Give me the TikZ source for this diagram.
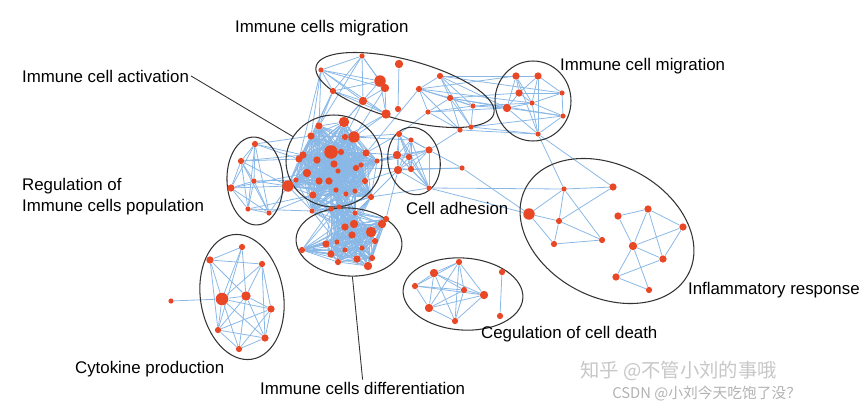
\documentclass[tikz,border=0pt]{standalone}
\usepackage{fontspec}
\setmainfont{Liberation Sans}
\newfontfamily\cjk{Noto Sans CJK SC}
\usepackage{tikz}
\usetikzlibrary{shapes.geometric, backgrounds}
\usepackage{xcolor}
\definecolor{dotRed}{RGB}{232, 72, 38}
\definecolor{linkBlue}{RGB}{138, 184, 230}

\begin{document}
\begin{tikzpicture}[
  x=0.02cm, y=-0.02cm,
  dot/.style={circle, fill=dotRed, inner sep=0pt},
  link/.style={linkBlue, line width=0.45pt},
  ring/.style={ellipse, draw=black!80, line width=0.6pt, inner sep=0pt},
  lbl/.style={font=\fontsize{9.6}{11.9}\selectfont, inner sep=1pt, anchor=west, align=left},
  lead/.style={black!80, line width=0.5pt}
]
  \useasboundingbox (0,0) rectangle (865,409);
  % Cluster outlines
  \node[ring, minimum width=1.92cm, minimum height=1.84cm] (act) at (334,161) {};
  \node[ring, minimum width=3.68cm, minimum height=1.2cm, rotate=-15] (migs) at (405,90) {};
  \node[ring, minimum width=1.52cm, minimum height=1.6cm] (mig) at (533,101) {};
  \node[ring, minimum width=1.12cm, minimum height=1.76cm, rotate=3] (reg) at (255,181) {};
  \node[ring, minimum width=1.04cm, minimum height=1.36cm, rotate=10] (adh) at (414,161) {};
  \node[ring, minimum width=2.12cm, minimum height=1.36cm, rotate=-4] (diff) at (349,242) {};
  \node[ring, minimum width=3.68cm, minimum height=2.64cm, rotate=-28] (infl) at (607,231) {};
  \node[ring, minimum width=1.66cm, minimum height=2.52cm, rotate=9] (cyto) at (242,297) {};
  \node[ring, minimum width=2.4cm, minimum height=1.44cm, rotate=-4] (death) at (463,294) {};
  % Labels
  \node[lbl] (lblmigs) at (233,28) {Immune cells migration};
  \node[lbl] (lblact) at (20,76) {Immune cell activation};
  \node[lbl] (lblmig) at (558,66) {Immune cell migration};
  \node[lbl] (lblreg) at (20,197) {Regulation of\\Immune cells population};
  \node[lbl] (lbladh) at (404,208) {Cell adhesion};
  \node[lbl] (lblinfl) at (686,290) {Inflammatory response};
  \node[lbl] (lbldeath) at (479,334) {Cegulation of cell death};
  \node[lbl] (lblcyto) at (73,369) {Cytokine production};
  \node[lbl] (lbldiff) at (258,388) {Immune cells differentiation};
  \draw[lead] (lblact.east) -- (act);
  \draw[lead] (lbldiff.north) -- (diff);
  % Genes
  \foreach \n/\x/\y/\s in {
    a1/319/126/6, a2/344/122/9, a3/354/137/10, a4/311/136/6, a5/345/137/5,
    a6/331/152/12, a7/341/152/5, a8/366/153/6, a9/303/155/6, a10/299/159/6,
    a11/317/160/6, a12/334/164/6, a13/356/168/5, a14/361/165/4, a15/377/161/4,
    a16/307/173/7, a17/338/171/4, a18/296/180/4, a19/319/181/6, a20/329/181/6,
    a21/365/181/5, a22/336/190/4, a23/355/191/4, a24/346/194/4, a25/313/195/6,
    a26/288/186/10, a27/371/197/5, a28/312/211/4,
    m1/362/56/4, m2/321/70/4, m3/399/64/7, m4/380/81/10, m5/385/88/7,
    m6/333/91/5, m7/363/101/7, m8/398/109/5, m9/386/114/8, m10/419/89/5,
    m11/440/76/5, m12/450/98/5, m13/428/112/4, m14/473/106/4, m15/460/130/4,
    m16/471/127/4,
    g1/516/76/6, g2/538/76/6, g3/519/93/6, g4/562/93/4, g5/532/103/4,
    g6/507/108/7, g7/563/116/4, g8/538/134/4,
    c1/399/134/5, c2/411/140/4, c3/429/150/6, c4/397/155/7, c5/409/157/5,
    c6/398/170/7, c7/411/169/5, c8/429/188/4, c9/462/168/4,
    r1/255/144/5, r2/241/161/5, r3/254/181/4, r4/231/188/6, r5/248/209/4,
    r6/269/213/4,
    d1/345/227/6, d2/354/224/7, d3/382/224/7, d4/386/219/5, d5/371/232/9,
    d6/352/235/6, d7/326/244/6, d8/337/242/4, d9/375/241/5, d10/302/250/5,
    d11/331/254/6, d12/357/259/6, d13/372/258/5, d14/338/262/5, d15/368/266/7,
    d16/331/209/4, d17/339/207/4, d18/362/248/4, d19/345/250/4, d20/355/213/4,
    f1/564/189/4, f2/613/187/6, f3/529/214/10, f4/559/221/5, f5/554/244/5,
    f6/602/240/5, f7/618/216/6, f8/648/209/6, f9/683/227/6, f10/633/246/7,
    f11/663/259/6, f12/616/277/6, f13/649/290/5,
    k1/242/247/5, k2/210/260/6, k3/262/264/5, k4/222/299/11, k5/246/296/8,
    k6/271/309/6, k7/171/301/4, k8/218/330/5, k9/265/338/6, k10/239/349/5,
    x1/459/262/5, x2/434/273/7, x3/415/286/5, x4/464/290/5, x5/484/295/7,
    x6/429/308/7, x7/455/321/5, x8/502/272/5, x9/500/316/5%
  } {
    \node[dot, minimum size=\s*0.021cm+0.02cm] (\n) at (\x,\y) {};
  }
  \begin{pgfonlayer}{background}
    % Dense clusters
    \foreach \i in {1,...,27} {
      \pgfmathtruncatemacro\k{\i+1}
      \foreach \j in {\k,...,28} {
        \draw[link] (a\i) -- (a\j);
      }
    }
    \foreach \i in {1,...,19} {
      \pgfmathtruncatemacro\k{\i+1}
      \foreach \j in {\k,...,20} {
        \draw[link] (d\i) -- (d\j);
      }
    }
    \foreach \i in {1,...,7} {
      \pgfmathtruncatemacro\k{\i+1}
      \foreach \j in {\k,...,8} {
        \draw[link] (c\i) -- (c\j);
      }
    }
    \foreach \p in {17,20,22,23,24,25,27,28} {
      \foreach \q in {1,2,6,8,16,17,20} {
        \draw[link] (a\p) -- (d\q);
      }
    }
    % Sparse clusters
    \foreach \u/\v in {
      m1/m2, m1/m4, m1/m5, m1/m6, m1/m7, m2/m4, m2/m5, m2/m6, m2/m7, m4/m5,
      m4/m6, m5/m7, m6/m7, m3/m8, m5/m9, m7/m9, m4/m9, m10/m11, m10/m12,
      m10/m13, m10/m14, m11/m12, m11/m14, m12/m13, m12/m14, m12/m15, m13/m14,
      m11/m16, m14/m16, m12/m16, m10/m15, m13/m15, m6/m9, m2/m9,
      m11/g1, m11/g2, m12/g6, m14/g6, m11/g6, m12/g3, m10/g5, m16/g7, m15/g8,
      m14/g5, m11/g4, m12/g7, m10/g1, m13/g6, m16/g8,
      m2/a1, m2/a4, m6/a1, m6/a4, m7/a2, m9/a3, m4/a2, m5/a3, m6/a9, m1/a1,
      m10/a8, m13/c1, m9/a5, m7/a5, m2/a10, m15/c3,
      g1/g2, g1/g3, g1/g5, g1/g6, g2/g3, g2/g4, g2/g5, g2/g8, g3/g6, g3/g5,
      g4/g5, g4/g7, g5/g6, g5/g7, g5/g8, g6/g8, g6/g7, g7/g8, g1/g8, g3/g4,
      g8/f1, g8/f2,
      c9/c3, c9/c6, c9/c7, c9/f3, f1/c8, f3/c8,
      c1/a3, c4/a8, c4/a15, c6/a21, c5/a15, c2/a3, c3/a15, c6/a27, c1/a8,
      c4/a14, c7/a13, c8/a27, c6/d4,
      r1/r2, r1/r3, r1/r4, r1/r5, r1/r6, r2/r3, r2/r4, r2/r6, r3/r4, r3/r5,
      r3/r6, r4/r5, r4/r6, r5/r6, r2/r5,
      r1/a9, r1/a10, r2/a10, r2/a26, r3/a26, r3/a18, r4/a26, r6/a26, r5/a28,
      r6/a25, r1/a4, r4/a16, r2/a9, r5/a25,
      f1/f2, f1/f3, f1/f4, f1/f6, f2/f4, f3/f4, f3/f5, f4/f5, f4/f6, f5/f6,
      f7/f8, f7/f10, f8/f9, f8/f10, f8/f11, f9/f10, f9/f11, f10/f11, f10/f12,
      f10/f13, f11/f12, f12/f13,
      k1/k2, k1/k4, k1/k5, k2/k3, k2/k4, k2/k5, k2/k8, k3/k4, k3/k5, k3/k6,
      k4/k5, k4/k6, k4/k7, k4/k8, k4/k9, k4/k10, k5/k6, k5/k8, k5/k9, k5/k10,
      k6/k8, k6/k9, k6/k10, k8/k9, k8/k10, k9/k10, k1/k8, k3/k9,
      x1/x2, x1/x3, x1/x4, x1/x5, x1/x6, x1/x7, x2/x3, x2/x4, x2/x5, x2/x6,
      x2/x7, x3/x4, x3/x5, x3/x6, x4/x5, x4/x6, x4/x7, x5/x6, x5/x7, x6/x7,
      x8/x9%
    } {
      \draw[link] (\u) -- (\v);
    }
  \end{pgfonlayer}
  % Watermark
  \node[font=\cjk\fontsize{11}{12}\selectfont, text=black!22, anchor=west, inner sep=0pt] (wm1) at (580,371) {知乎 @不管小刘的事哦};
  \node[font=\cjk\fontsize{8.4}{10}\selectfont, text=black!30, anchor=west, inner sep=0pt] (wm2) at (612,394) {CSDN @小刘今天吃饱了没？};
\end{tikzpicture}
\end{document}
